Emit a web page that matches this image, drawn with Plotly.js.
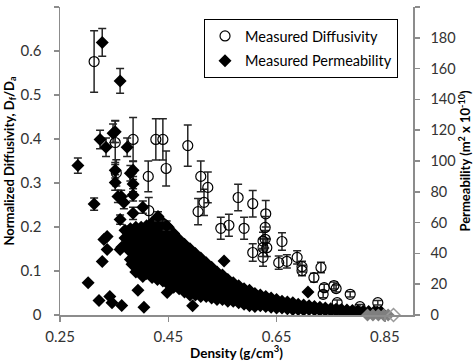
<!DOCTYPE html>
<html><head><meta charset="utf-8">
<script src="https://cdn.plot.ly/plotly-3.0.1.min.js"></script>
<style>html,body{margin:0;padding:0;background:#fff}#c{width:474px;height:361px}</style>
</head><body><div id="c"></div>
<script>
// Measured diffusivity (left axis): density, Df/Da, error
const diffX = [0.313,0.352,0.354,0.385,0.413,0.414,0.427,0.440,0.446,0.486,0.505,0.510,0.516,0.523,0.547,0.562,0.579,0.590,0.606,0.606,0.625,0.625,0.625,0.629,0.629,0.630,0.632,0.654,0.660,0.669,0.688,0.697,0.697,0.719,0.732,0.736,0.738,0.756,0.760,0.762,0.786,0.804,0.837];
const diffY = [0.576,0.392,0.323,0.399,0.315,0.237,0.399,0.399,0.333,0.385,0.235,0.315,0.256,0.290,0.197,0.204,0.267,0.197,0.253,0.142,0.168,0.153,0.131,0.199,0.172,0.230,0.153,0.119,0.167,0.122,0.131,0.110,0.101,0.085,0.108,0.047,0.062,0.067,0.060,0.028,0.047,0.019,0.028];
const diffErr = [0.070,0.050,0.030,0.050,0.035,0.030,0.047,0.047,0.040,0.047,0.030,0.035,0.030,0.035,0.025,0.025,0.030,0.025,0.030,0.020,0.020,0.020,0.020,0.025,0.020,0.030,0.020,0.015,0.020,0.015,0.015,0.012,0.012,0.010,0.012,0.008,0.008,0.008,0.008,0.006,0.006,0.005,0.005];

// Measured permeability with visible error bars (right axis, m2 x 1e-10)
const permEX = [0.328,0.361,0.283,0.324,0.335,0.348,0.352,0.374,0.352,0.385,0.380,0.352,0.385,0.313,0.363,0.368,0.385,0.385,0.403,0.361,0.431,0.447,0.357];
const permEY = [177,152,97,114,109,118,119,109,94,94,92,86,85,72,77,73,78,66,70,62,64,58,77];
const permEE = [9,8,5,6,6,6,7,6,5,6,5,5,5,4,4,4,4,4,4,3,3,3,4];

// Scattered permeability points without visible error bars
const permX = [0.331,0.337,0.337,0.328,0.302,0.322,0.342,0.346,0.364,0.405,0.394,0.448,0.495,0.553,0.708,0.385,0.361,0.364,0.383,0.392,0.374,0.380,0.403,0.420,0.435,0.836,0.843];
const permY = [49,51,42.5,34.7,21,9.4,12,8,6.2,5,16,14.6,6,35,15,34,42.5,44,33,38,54,55.5,25,24.4,26,2,2];

// Dense permeability cloud, read column by column (density, values)
const cloudX = [0.37,0.38,0.39,0.40,0.41,0.42,0.43,0.44,0.45,0.46,0.47,0.48,0.49,0.50,0.51,0.52,0.53,0.54,0.55,0.56,0.57,0.58,0.59,0.60,0.61,0.62,0.63,0.64,0.65,0.66,0.67,0.68,0.69,0.70,0.71,0.72,0.73,0.74,0.75,0.76,0.77,0.78,0.79,0.80,0.81,0.82,0.83];
const cloudV = [
 [55,50,45],
 [56,51,46,41,36],
 [57,52,47,43,38,32,28],
 [57,53,48,44,39,34,29],
 [58,54,50,45,41,37,32,27],
 [60,55,51,47,43,38,34,29,25],
 [62,57,53,49,45,41,36,32,27,23],
 [60,56,52,48,44,40,35,31,26,22],
 [57,53,49,45,41,37,33,28,24,20],
 [53,49,45,41,37,33,29,25,21,18],
 [49,45,41,37,33,29,25,21,17],
 [46,42,38,34,30,26,22,18,15],
 [43,39,35,31,27,23,19,15,13],
 [40,36,32,28,24,20,16,13],
 [37,33,29,25,21,17,14,12],
 [34,30,26,22,18,15,12],
 [31,27,23,19,15,12,11],
 [28,24,20,16,13,10],
 [26,22,18,14,10],
 [23,19,15,12,9],
 [21,17,13,9],
 [19,15,11,8],
 [17,13,9,7],
 [16,12,8,6],
 [14,10,7,5.5],
 [13,9,6],
 [12,8.5,5.5],
 [11,7.5,5],
 [10,7,4.5],
 [9,6,4.5],
 [8.5,5.5,4],
 [8,5,3.5],
 [7,4.5,3.5],
 [6.5,4,3.2],
 [6,3.5],
 [5.5,3.2],
 [5,3],
 [4.5,3],
 [4,2.8],
 [3.8,2.6],
 [3.5,2.5],
 [3.2,2.4],
 [3,2.3],
 [2.8,2.2],
 [2.5,2],
 [2.2],
 [2]
];

// Grey diamonds at the high-density end
const greyX = [0.818,0.828,0.838,0.848,0.856];
const greyY = [0,0,0,0,0];
const greyOpenX = [0.866];
const greyOpenY = [0];

const cX = [], cY = [];
cloudX.forEach((x, i) => cloudV[i].forEach(v => { cX.push(x); cY.push(v); }));

const F = 'Lato, "Liberation Sans", Arial, sans-serif';
const errStyle = {type:'data', visible:true, color:'#262626', thickness:1.5, width:4};

const traces = [
 {x:cX, y:cY, yaxis:'y2', type:'scatter', mode:'markers', showlegend:false, legendgroup:'p',
  marker:{symbol:'diamond', size:10, color:'#000'}},
 {x:permX, y:permY, yaxis:'y2', type:'scatter', mode:'markers', showlegend:false, legendgroup:'p',
  marker:{symbol:'diamond', size:10, color:'#000'}},
 {x:greyX, y:greyY, yaxis:'y2', type:'scatter', mode:'markers', showlegend:false, cliponaxis:false,
  marker:{symbol:'diamond', size:10, color:'#7f7f7f'}},
 {x:greyOpenX, y:greyOpenY, yaxis:'y2', type:'scatter', mode:'markers', showlegend:false, cliponaxis:false,
  marker:{symbol:'diamond-open', size:10, color:'#9a9a9a', line:{width:1.5}}},
 {x:permEX, y:permEY, yaxis:'y2', type:'scatter', mode:'markers', name:'Measured Permeability', legendgroup:'p', legendrank:2,
  error_y:Object.assign({array:permEE}, errStyle),
  marker:{symbol:'diamond', size:10, color:'#000'}},
 {x:diffX, y:diffY, type:'scatter', mode:'markers', name:'Measured Diffusivity', legendgroup:'d', legendrank:1,
  error_y:Object.assign({array:diffErr}, errStyle),
  marker:{symbol:'circle', size:10, color:'rgba(255,255,255,0)', line:{color:'#000', width:1.2}}}
];

const axisCommon = {showgrid:false, zeroline:false, showline:true, linecolor:'#8c8c8c', linewidth:1.5,
  ticks:'outside', ticklen:5, tickcolor:'#8c8c8c', tickwidth:1.5, automargin:false,
  tickfont:{family:F, size:15, color:'#333'}, ticklabelstandoff:9};

const layout = {
  width:474, height:361,
  margin:{l:60, r:61, t:7, b:46},
  paper_bgcolor:'#fff', plot_bgcolor:'#fff',
  font:{family:F, color:'#000'},
  xaxis:Object.assign({}, axisCommon, {range:[0.25,0.902], tick0:0.25, dtick:0.2, tickformat:'.2f', ticklabelstandoff:2,
    title:{text:'<b>Density (g/cm<sup>3</sup>)</b>', font:{family:F, size:13.5, color:'#000'}, standoff:5}}),
  yaxis:Object.assign({}, axisCommon, {range:[0,0.7], dtick:0.1,
    title:{text:'<b>Normalized Diffusivity, D<sub>f</sub>/D<sub>a</sub></b>', font:{family:F, size:13, color:'#000'}, standoff:3}}),
  yaxis2:Object.assign({}, axisCommon, {range:[0,200], dtick:20, overlaying:'y', side:'right', ticklabelstandoff:8,
    tickfont:{family:F, size:14.5, color:'#333'},
    title:{text:'<b>Permeability (m<sup>2</sup> x 10<sup>-10</sup>)</b>', font:{family:F, size:13, color:'#000'}, standoff:6}}),
  legend:{x:0.408, y:0.961, xanchor:'left', yanchor:'top', bgcolor:'#fff', bordercolor:'#000', borderwidth:1,
    font:{family:F, size:14.5, color:'#000'}, traceorder:'grouped', tracegroupgap:3, itemwidth:30},
  showlegend:true
};

Plotly.newPlot('c', traces, layout, {displayModeBar:false, staticPlot:true});
</script></body></html>
